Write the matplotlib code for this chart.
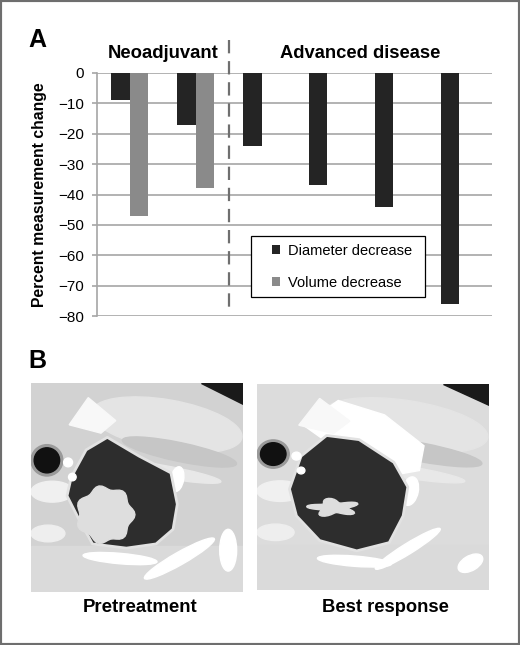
import numpy as np
import matplotlib
matplotlib.use("Agg")
import matplotlib.pyplot as plt
from matplotlib.patches import Ellipse, Polygon, Rectangle, Circle
from matplotlib.legend_handler import HandlerPatch

plt.rcParams['font.family'] = ['Liberation Sans', 'DejaVu Sans']

# data
patients = ['N1', 'N2', 'A1', 'A2', 'A3', 'A4']
diameter_change = [-9, -17, -24, -37, -44, -76]
volume_change = [-47, -38, np.nan, np.nan, np.nan, np.nan]
group_labels = ['Neoadjuvant', 'Advanced disease']
yticks = [0, -10, -20, -30, -40, -50, -60, -70, -80]
image_labels = ['Pretreatment', 'Best response']

dark = '#242424'
mid = '#8a8a8a'
gridc = '#a6a6a6'

fig = plt.figure(figsize=(5.2, 6.45), dpi=100)
fig.patches.append(Rectangle((0, 0), 1, 1, transform=fig.transFigure,
                             fill=False, edgecolor='#6e6e6e', linewidth=3))

# ---- panel A: bar chart
ax = fig.add_axes([97 / 520, 1 - 316 / 645, 395 / 520, 243 / 645])
x = np.arange(len(patients))
w = 0.28
b1 = ax.bar(x - w / 2, diameter_change, w, color=dark, zorder=3)
b2 = ax.bar(x + w / 2, volume_change, w, color=mid, zorder=3)

ax.set_xlim(-0.5, len(patients) - 0.5)
ax.set_ylim(-80, 0)
ax.set_yticks(yticks)
ax.tick_params(axis='y', labelsize=11, length=3.5, width=1.2, color=gridc, pad=6)
ax.set_xticks([])
ax.yaxis.grid(True, color=gridc, linewidth=1.2, zorder=0)
for s in ['top', 'right', 'bottom']:
    ax.spines[s].set_visible(False)
ax.spines['left'].set_color(gridc)
ax.spines['left'].set_linewidth(1.2)
ax.set_ylabel('Percent measurement change', fontsize=11.3, fontweight='bold', labelpad=8)

# divider between the two groups
ax.plot([1.5, 1.5], [11, -79], color='#6f6f6f', linewidth=1.6,
        dashes=(6, 3.5), clip_on=False, zorder=4)
ax.text(0.5, 6.5, group_labels[0], ha='center', va='center',
        fontsize=13.3, fontweight='bold')
ax.text(3.5, 6.5, group_labels[1], ha='center', va='center',
        fontsize=13.2, fontweight='bold')


def square_handle(legend, orig_handle, xdescent, ydescent, width, height, fontsize):
    s = height * 1.1
    return Rectangle((width - s - xdescent, (height - s) / 2 - ydescent), s, s)


leg = ax.legend(handles=[b1[0], b2[0]], labels=['Diameter decrease', 'Volume decrease'],
                loc='lower left', bbox_to_anchor=(0.39, 0.078, 0.44, 0.247),
                mode='expand', fontsize=10.5, handlelength=1.5, handleheight=0.45,
                handletextpad=0.5, labelspacing=1.25, borderpad=0.5,
                borderaxespad=0, fancybox=False, framealpha=1,
                handler_map={Rectangle: HandlerPatch(patch_func=square_handle)})
leg.get_frame().set_edgecolor('black')
leg.get_frame().set_linewidth(0.9)

fig.text(28 / 520, 1 - 40 / 645, 'A', fontsize=18, fontweight='bold', va='center')
fig.text(28 / 520, 1 - 361 / 645, 'B', fontsize=18, fontweight='bold', va='center')


# ---- panel B: schematic CT slices (shapes in image-relative coords, y down)
def ct_slice(axi, bg, lung, tumor, trachea, bright_zone, ribs):
    axi.set_xlim(0, 1)
    axi.set_ylim(1, 0)
    axi.axis('off')
    axi.add_patch(Rectangle((0, 0), 1, 1, color=bg))
    axi.add_patch(Rectangle((0, 0.78), 1, 0.22, color='#dadada'))
    axi.add_patch(Polygon([(0.8, 0), (1, 0), (1, 0.1)], color='#1a1a1a'))
    # muscle band over the apex
    axi.add_patch(Ellipse((0.64, 0.2), 0.72, 0.24, angle=10, color='#e4e4e4'))
    axi.add_patch(Ellipse((0.7, 0.33), 0.55, 0.09, angle=12, color='#c6c6c6'))
    axi.add_patch(Ellipse((0.6, 0.42), 0.6, 0.06, angle=10, color='#e8e8e8'))
    if bright_zone is not None:
        axi.add_patch(Polygon(bright_zone, color='white'))
    axi.add_patch(Polygon([(0.18, 0.2), (0.27, 0.07), (0.4, 0.18), (0.33, 0.24)],
                          color='#f8f8f8'))
    axi.add_patch(Ellipse((0.1, 0.52), 0.2, 0.1, color='#f0f0f0'))
    axi.add_patch(Ellipse((0.08, 0.72), 0.16, 0.08, color='#eeeeee'))
    for (rx, ry, rw, rh, ra) in ribs:
        axi.add_patch(Ellipse((rx, ry), rw, rh, angle=ra, color='white'))
    # pleura + lung
    axi.add_patch(Polygon(lung, closed=True, facecolor='#2d2d2d',
                          edgecolor='#e2e2e2', linewidth=2, joinstyle='round'))
    axi.add_patch(Polygon(tumor, closed=True, color='#dedede'))
    qx, qy, qr = trachea
    axi.add_patch(Circle((qx, qy), qr * 1.25, color='#9a9a9a'))
    axi.add_patch(Circle((qx, qy), qr, color='#111111'))
    axi.add_patch(Circle((qx + 0.1, qy + 0.01), qr * 0.35, color='white'))
    axi.add_patch(Circle((qx + 0.12, qy + 0.08), qr * 0.3, color='white'))


def blob(cx, cy, rx, ry, bumps, depth, n=60, rot=0.0):
    t = np.linspace(0, 2 * np.pi, n, endpoint=False)
    r = 1 + depth * np.cos(bumps * t)
    return np.column_stack([cx + rx * r * np.cos(t + rot), cy + ry * r * np.sin(t + rot)])


lung_pre = [(0.36, 0.26), (0.51, 0.35), (0.66, 0.43), (0.69, 0.58), (0.67, 0.70),
            (0.59, 0.77), (0.45, 0.79), (0.29, 0.77), (0.22, 0.64), (0.17, 0.54),
            (0.19, 0.45), (0.26, 0.32)]
lung_post = [(0.30, 0.25), (0.44, 0.27), (0.59, 0.38), (0.65, 0.50), (0.63, 0.64),
             (0.57, 0.77), (0.43, 0.81), (0.27, 0.76), (0.17, 0.64), (0.14, 0.51),
             (0.19, 0.35)]
ribs_pre = [(0.69, 0.46, 0.06, 0.12, 10), (0.7, 0.84, 0.38, 0.06, -30),
            (0.93, 0.8, 0.08, 0.2, 0), (0.42, 0.84, 0.35, 0.05, 5)]
ribs_post = [(0.66, 0.52, 0.07, 0.14, 10), (0.65, 0.8, 0.34, 0.05, -35),
             (0.92, 0.87, 0.12, 0.07, -35), (0.42, 0.86, 0.32, 0.05, 5)]
bright_post = [(0.2, 0.2), (0.35, 0.08), (0.55, 0.15), (0.72, 0.3), (0.7, 0.42),
               (0.55, 0.45), (0.45, 0.3), (0.3, 0.28)]

ax_b1 = fig.add_axes([31 / 520, 1 - 592 / 645, 212 / 520, 209 / 645])
ct_slice(ax_b1, '#d2d2d2', lung_pre, blob(0.35, 0.63, 0.13, 0.13, 7, 0.08),
         (0.075, 0.37, 0.06), None, ribs_pre)
ax_b2 = fig.add_axes([257 / 520, 1 - 590 / 645, 232 / 520, 206 / 645])
ct_slice(ax_b2, '#dcdcdc', lung_post, blob(0.33, 0.6, 0.09, 0.035, 5, 0.3, rot=-0.5),
         (0.07, 0.34, 0.055), bright_post, ribs_post)

fig.text(140 / 520, 1 - 607 / 645, image_labels[0], ha='center', va='center',
         fontsize=13.4, fontweight='bold')
fig.text(385 / 520, 1 - 607 / 645, image_labels[1], ha='center', va='center',
         fontsize=13.2, fontweight='bold')

fig.savefig('out.png', dpi=100)
